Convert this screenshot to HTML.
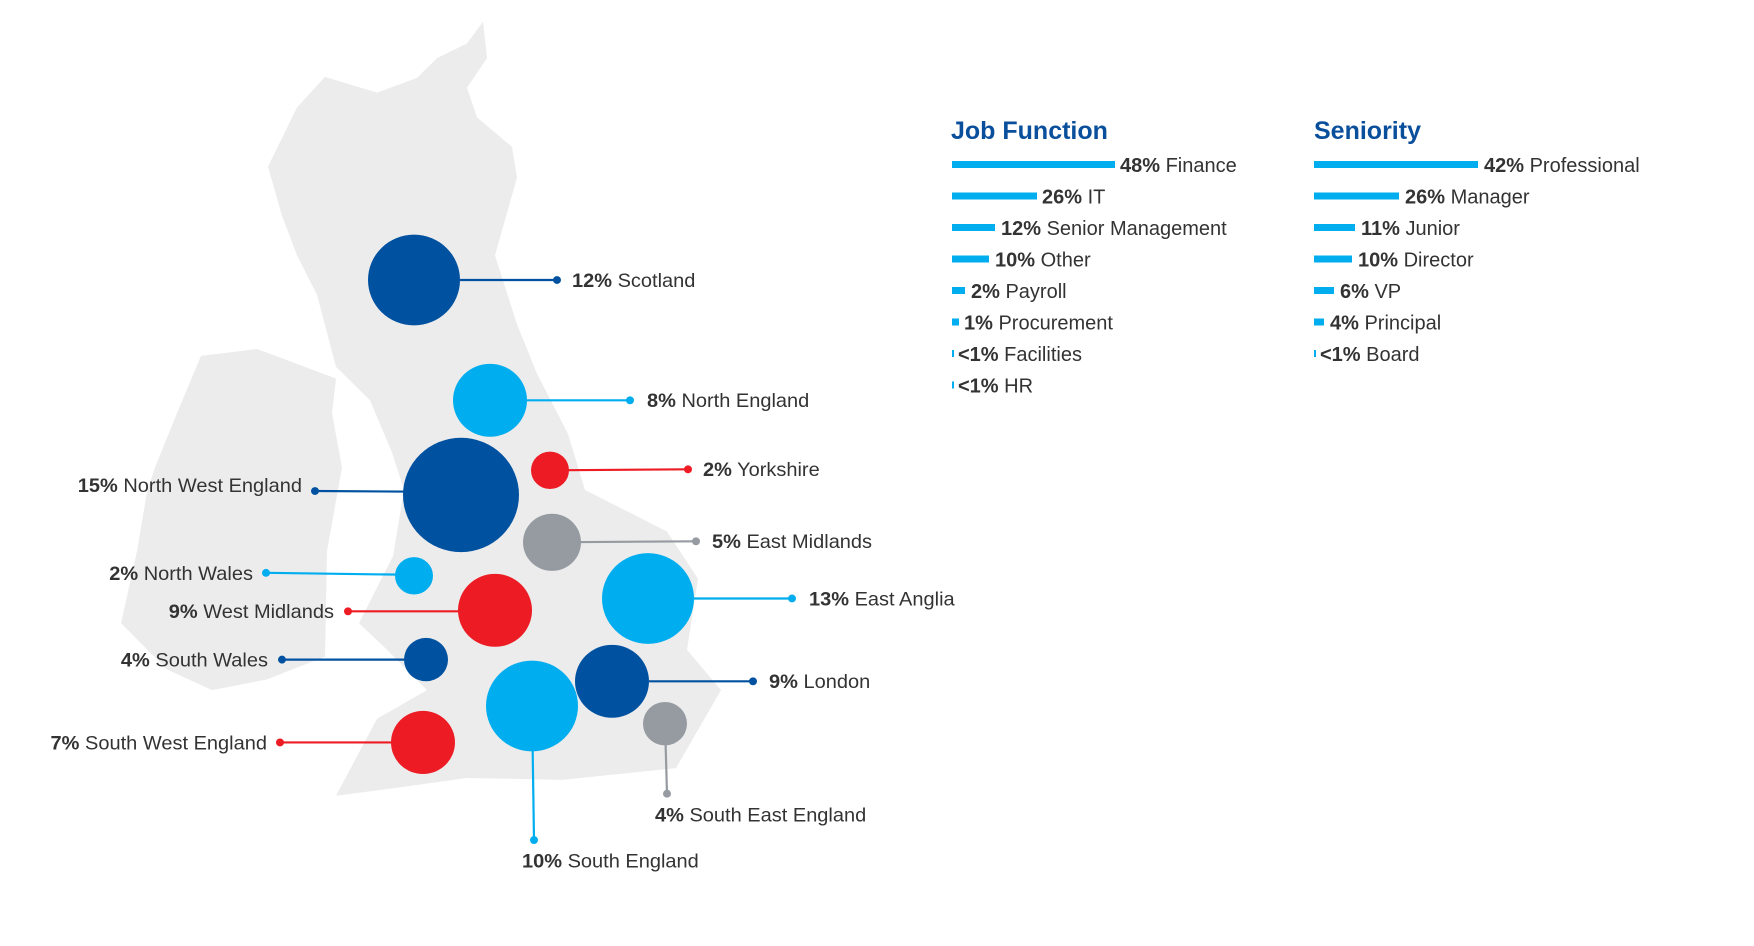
<!DOCTYPE html>
<html><head><meta charset="utf-8"><style>
body{margin:0;background:#fff;width:1754px;height:946px;overflow:hidden;font-family:"Liberation Sans","DejaVu Sans",sans-serif}
svg{position:absolute;left:0;top:0}
</style></head><body>
<svg width="1754" height="946" viewBox="0 0 1754 946" font-family="Liberation Sans, DejaVu Sans, sans-serif">
<g transform="translate(-3,-1) scale(1,0.986)">
<g fill="#ececec">
<polygon points="486,23 470,45 440,60 420,80 380,95 328,79 300,110 271,170 285,220 300,260 320,300 339,373 373,407 395,460 407,498 396,565 362,633 390,660 430,701 380,730 339,808 400,800 470,790 565,792 679,780 724,701 690,660 701,588 670,540 588,498 571,441 540,380 520,330 498,260 520,181 515,150 480,120 470,90 490,60"/>
<polygon points="204,362 260,355 300,370 339,385 335,420 345,475 330,560 328,667 270,690 215,701 170,680 124,633 140,560 150,500 158,475 180,420"/>
</g>
<g stroke-width="2.2" fill="none">
<line x1="417" y1="285" x2="560" y2="285" stroke="#0052a0"/>
<line x1="493" y1="407" x2="633" y2="407" stroke="#00aeef"/>
<line x1="318" y1="499" x2="464" y2="500" stroke="#0052a0"/>
<line x1="553" y1="478" x2="691" y2="477" stroke="#ed1c24"/>
<line x1="555" y1="551" x2="699" y2="550" stroke="#959ba1"/>
<line x1="269" y1="582" x2="417" y2="584" stroke="#00aeef"/>
<line x1="351" y1="621" x2="498" y2="621" stroke="#ed1c24"/>
<line x1="651" y1="608" x2="795" y2="608" stroke="#00aeef"/>
<line x1="285" y1="670" x2="429" y2="670" stroke="#0052a0"/>
<line x1="615" y1="692" x2="756" y2="692" stroke="#0052a0"/>
<line x1="535" y1="717" x2="537" y2="853" stroke="#00aeef"/>
<line x1="668" y1="735" x2="670" y2="806" stroke="#959ba1"/>
<line x1="283" y1="754" x2="426" y2="754" stroke="#ed1c24"/>
</g>
<g>
<circle cx="560" cy="285" r="4" fill="#0052a0"/><circle cx="633" cy="407" r="4" fill="#00aeef"/>
<circle cx="318" cy="499" r="4" fill="#0052a0"/><circle cx="691" cy="477" r="4" fill="#ed1c24"/>
<circle cx="699" cy="550" r="4" fill="#959ba1"/><circle cx="269" cy="582" r="4" fill="#00aeef"/>
<circle cx="351" cy="621" r="4" fill="#ed1c24"/><circle cx="795" cy="608" r="4" fill="#00aeef"/>
<circle cx="285" cy="670" r="4" fill="#0052a0"/><circle cx="756" cy="692" r="4" fill="#0052a0"/>
<circle cx="537" cy="853" r="4" fill="#00aeef"/><circle cx="670" cy="806" r="4" fill="#959ba1"/>
<circle cx="283" cy="754" r="4" fill="#ed1c24"/>
</g>
<g>
<circle cx="417" cy="285" r="46" fill="#0052a0"/>
<circle cx="493" cy="407" r="37" fill="#00aeef"/>
<circle cx="464" cy="503" r="58" fill="#0052a0"/>
<circle cx="553" cy="478" r="19" fill="#ed1c24"/>
<circle cx="555" cy="551" r="29" fill="#959ba1"/>
<circle cx="417" cy="585" r="19" fill="#00aeef"/>
<circle cx="498" cy="620" r="37" fill="#ed1c24"/>
<circle cx="651" cy="608" r="46" fill="#00aeef"/>
<circle cx="429" cy="670" r="22" fill="#0052a0"/>
<circle cx="615" cy="692" r="37" fill="#0052a0"/>
<circle cx="535" cy="717" r="46" fill="#00aeef"/>
<circle cx="668" cy="735" r="22" fill="#959ba1"/>
<circle cx="426" cy="754" r="32" fill="#ed1c24"/>
</g>
<g font-size="20" fill="#333">
<text x="575" y="292"><tspan font-weight="bold">12%</tspan> Scotland</text>
<text x="650" y="414"><tspan font-weight="bold">8%</tspan> North England</text>
<text x="305" y="500" text-anchor="end"><tspan font-weight="bold">15%</tspan> North West England</text>
<text x="706" y="484"><tspan font-weight="bold">2%</tspan> Yorkshire</text>
<text x="715" y="557"><tspan font-weight="bold">5%</tspan> East Midlands</text>
<text x="256" y="589" text-anchor="end"><tspan font-weight="bold">2%</tspan> North Wales</text>
<text x="337" y="628" text-anchor="end"><tspan font-weight="bold">9%</tspan> West Midlands</text>
<text x="812" y="615"><tspan font-weight="bold">13%</tspan> East Anglia</text>
<text x="271" y="677" text-anchor="end"><tspan font-weight="bold">4%</tspan> South Wales</text>
<text x="772" y="699"><tspan font-weight="bold">9%</tspan> London</text>
<text x="525" y="881"><tspan font-weight="bold">10%</tspan> South England</text>
<text x="658" y="834"><tspan font-weight="bold">4%</tspan> South East England</text>
<text x="270" y="761" text-anchor="end"><tspan font-weight="bold">7%</tspan> South West England</text>
</g>
</g>
<g font-size="25" font-weight="bold" fill="#0a4f9c">
<text x="951" y="139">Job Function</text>
<text x="1314" y="139">Seniority</text>
</g>
<g fill="#00aeef">
<rect x="952" y="161" width="163" height="7"/>
<rect x="952" y="192.5" width="85" height="7"/>
<rect x="952" y="224" width="43" height="7"/>
<rect x="952" y="255.5" width="37" height="7"/>
<rect x="952" y="287" width="13" height="7"/>
<rect x="952" y="318.5" width="7" height="7"/>
<rect x="952" y="350" width="2" height="7"/>
<rect x="952" y="381.5" width="2" height="7"/>
<rect x="1314" y="161" width="164" height="7"/>
<rect x="1314" y="192.5" width="85" height="7"/>
<rect x="1314" y="224" width="41" height="7"/>
<rect x="1314" y="255.5" width="38" height="7"/>
<rect x="1314" y="287" width="20" height="7"/>
<rect x="1314" y="318.5" width="10" height="7"/>
<rect x="1314" y="350" width="2" height="7"/>
</g>
<g font-size="20" fill="#333">
<text x="1120" y="172"><tspan font-weight="bold">48%</tspan> Finance</text>
<text x="1042" y="203.5"><tspan font-weight="bold">26%</tspan> IT</text>
<text x="1001" y="235"><tspan font-weight="bold">12%</tspan> Senior Management</text>
<text x="995" y="266.5"><tspan font-weight="bold">10%</tspan> Other</text>
<text x="971" y="298"><tspan font-weight="bold">2%</tspan> Payroll</text>
<text x="964" y="329.5"><tspan font-weight="bold">1%</tspan> Procurement</text>
<text x="958" y="361"><tspan font-weight="bold">&lt;1%</tspan> Facilities</text>
<text x="958" y="392.5"><tspan font-weight="bold">&lt;1%</tspan> HR</text>
<text x="1484" y="172"><tspan font-weight="bold">42%</tspan> Professional</text>
<text x="1405" y="203.5"><tspan font-weight="bold">26%</tspan> Manager</text>
<text x="1361" y="235"><tspan font-weight="bold">11%</tspan> Junior</text>
<text x="1358" y="266.5"><tspan font-weight="bold">10%</tspan> Director</text>
<text x="1340" y="298"><tspan font-weight="bold">6%</tspan> VP</text>
<text x="1330" y="329.5"><tspan font-weight="bold">4%</tspan> Principal</text>
<text x="1320" y="361"><tspan font-weight="bold">&lt;1%</tspan> Board</text>
</g>
</svg>
</body></html>
